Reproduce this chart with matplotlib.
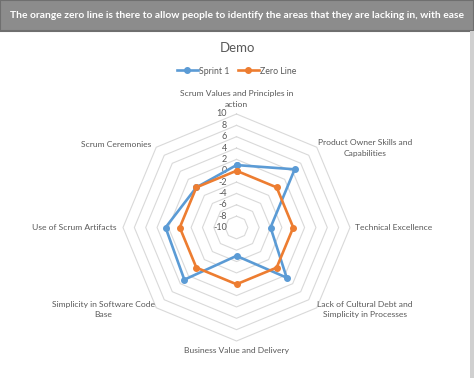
import numpy as np
import matplotlib.pyplot as plt
from matplotlib.patches import Rectangle

# Donnees
categories = ["Scrum Values and Principles in\naction",
              "Product Owner Skills and\nCapabilities",
              "Technical Excellence",
              "Lack of Cultural Debt and\nSimplicity in Processes",
              "Business Value and Delivery",
              "Simplicity in Software Code\nBase",
              "Use of Scrum Artifacts",
              "Scrum Ceremonies"]
sprint1 = [1, 4.5, -4, 2.5, -5, 3, 2.5, 0]
zero_line = [0, 0, 0, 0, 0, 0, 0, 0]
ticks = [-10, -8, -6, -4, -2, 0, 2, 4, 6, 8, 10]
rmin, rmax = -10, 10

plt.rcParams['font.family'] = ['Lato', 'DejaVu Sans']
grey_txt = '#595959'
blue = '#5B9BD5'
orange = '#ED7D31'

W, H = 474, 378
fig = plt.figure(figsize=(W / 100, H / 100), dpi=100)
ax = fig.add_axes([0, 0, 1, 1])
cx, cy, scale = 236.5, 227.5, 113.5 / (rmax - rmin)
ax.set_xlim(-cx / scale, (W - cx) / scale)
ax.set_ylim(-(H - cy) / scale, cy / scale)
ax.axis('off')

n = len(categories)
theta = np.arange(n) * 2 * np.pi / n


def xy(vals):
    r = np.array(vals, dtype=float) - rmin
    x = r * np.sin(theta)
    y = r * np.cos(theta)
    return np.append(x, x[0]), np.append(y, y[0])


# grille octogonale
for t in ticks[1:]:
    gx, gy = xy([t] * n)
    ax.plot(gx, gy, color='#d9d9d9', lw=0.8, zorder=1)

# etiquettes de l'axe
for t in ticks:
    ax.text(-1.7, t - rmin, str(t), ha='right', va='center', fontsize=6.5,
            color=grey_txt, zorder=3)

# series
bx, by = xy(sprint1)
ox, oy = xy(zero_line)
ax.plot(bx, by, color=blue, lw=1.9, marker='o', ms=4, zorder=4, label='Sprint 1')
ax.plot(ox, oy, color=orange, lw=1.9, marker='o', ms=4, zorder=5, label='Zero Line')

# categories
pos = [(0, 21.1, 'center', 'bottom'),
       (22.6, 14.0, 'center', 'center'),
       (20.9, 0, 'left', 'center'),
       (22.6, -14.5, 'center', 'center'),
       (0, -21.0, 'center', 'top'),
       (-23.5, -14.5, 'center', 'center'),
       (-21.2, 0, 'right', 'center'),
       (-15.0, 14.7, 'right', 'center')]
for lab, (x, y, ha, va) in zip(categories, pos):
    ax.text(x, y, lab, ha=ha, va=va, fontsize=6.1, color=grey_txt,
            multialignment='center', linespacing=1.55)

# bandeau
fig.patches.append(Rectangle((0, 1 - 31 / H), 1, 31 / H, transform=fig.transFigure,
                             facecolor='#8c8c8c', edgecolor='#6f6f6f', lw=1.5))
fig.text(0.5, 1 - 16 / H, "The orange zero line is there to allow people to identify the areas that they are lacking in, with ease",
         ha='center', va='center', fontsize=7.35, color='white', fontweight='bold')
fig.patches.append(Rectangle((1 - 4 / W, 0), 4 / W, 1 - 31 / H, transform=fig.transFigure,
                             facecolor='#d0d0d0', edgecolor='none'))

fig.text(0.5, 1 - 48 / H, "Demo", ha='center', va='center', fontsize=9.5, color=grey_txt)
fig.legend(loc='center', bbox_to_anchor=(0.5, 1 - 71 / H), ncol=2, frameon=False,
           fontsize=6.3, labelcolor=grey_txt, handlelength=2.3, columnspacing=1.0,
           handletextpad=0.2)

fig.savefig('out.png', dpi=100)
